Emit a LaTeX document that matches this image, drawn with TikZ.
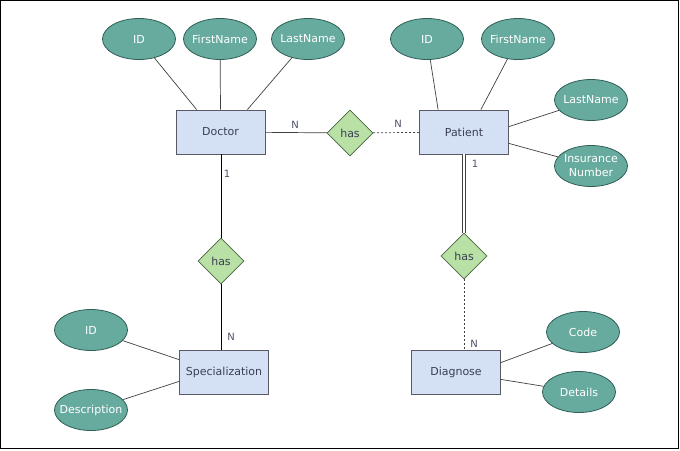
\documentclass[tikz,border=0pt]{standalone}
\usepackage{fontspec}
\setmainfont{DejaVu Sans}
\usetikzlibrary{shapes.geometric}
\definecolor{attrfill}{HTML}{67AB9F}
\definecolor{attrline}{HTML}{2E5E55}
\definecolor{entfill}{HTML}{D4E1F5}
\definecolor{entline}{HTML}{5A5A66}
\definecolor{relfill}{HTML}{B9E0A5}
\definecolor{relline}{HTML}{4A6340}
\definecolor{txt}{HTML}{3A3F55}
\begin{document}
\begin{tikzpicture}[x=1pt,y=-1pt,
		entity/.style={draw=entline,fill=entfill,line width=0.8pt,minimum width=89pt,minimum height=44pt,inner sep=0pt,text=txt,font=\fontsize{11}{13}\selectfont},
		attr/.style={ellipse,draw=attrline,fill=attrfill,line width=0.8pt,minimum width=73pt,minimum height=41pt,inner xsep=-10pt,inner ysep=0pt,text=white,align=center,font=\fontsize{11}{14}\selectfont},
		rel/.style={diamond,draw=relline,fill=relfill,line width=0.8pt,minimum size=46pt,inner sep=0pt,text=txt,font=\fontsize{11}{13}\selectfont},
		card/.style={text=txt!90,inner sep=0pt,font=\fontsize{10}{12}\selectfont},
		link/.style={draw=black!75,line width=0.7pt},
		dots/.style={link,dash pattern=on 2pt off 2pt}]
		\useasboundingbox (0,0) rectangle (680,450);
		\draw [black,line width=1.2pt] (0.6,0.6) rectangle (678.6,448.6);
		% entities
		\node [entity] (doctor) at (220.5,132) {Doctor};
		\node [entity] (patient) at (464,132) {Patient};
		\node [entity] (spec) at (224,372) {Specialization};
		\node [entity] (diag) at (456,372) {Diagnose};
		% relations
		\node [rel] (hasdp) at (350,133) {has};
		\node [rel] (hasds) at (221,261) {has};
		\node [rel] (haspd) at (464,256) {has};
		% attributes
		\node [attr] (docid) at (139,39) {ID};
		\node [attr] (docfirst) at (220,39) {FirstName};
		\node [attr] (doclast) at (308,39) {LastName};
		\node [attr] (patid) at (427,39) {ID};
		\node [attr] (patfirst) at (518,39) {FirstName};
		\node [attr] (patlast) at (591,100) {LastName};
		\node [attr] (patins) at (591,166) {Insurance\\Number};
		\node [attr] (specid) at (91,330) {ID};
		\node [attr] (specdesc) at (91,410) {Description};
		\node [attr] (diagcode) at (583,332) {Code};
		\node [attr] (diagdet) at (579,392) {Details};
		% attribute links
		\draw [link] (docid) -- ([xshift=21pt]doctor.north west);
		\draw [link] (docfirst) -- (doctor.north);
		\draw [link] (doclast) -- ([xshift=-18pt]doctor.north east);
		\draw [link] (patid) -- ([xshift=19pt]patient.north west);
		\draw [link] (patfirst) -- ([xshift=-28pt]patient.north east);
		\draw [link] (patlast) -- ([yshift=-17pt]patient.north east);
		\draw [link] (patins) -- ([yshift=11pt]patient.south east);
		\draw [link] (specid) -- ([yshift=-10pt]spec.north west);
		\draw [link] (specdesc) -- ([yshift=13pt]spec.south west);
		\draw [link] (diagcode) -- ([yshift=-13pt]diag.north east);
		\draw [link] (diagdet) -- ([yshift=15pt]diag.south east);
		% relation links
		\draw [link] (doctor) -- (hasdp);
		\draw [dots] (hasdp) -- (patient);
		\draw [link,black] (doctor.south -| hasds.north) -- (hasds.north);
		\draw [link,black] (hasds.south) -- (hasds.south |- spec.north);
		\draw [link,double=white,double distance=2pt,line width=0.6pt] (patient.south) -- (haspd.north);
		\draw [dots,line width=0.6pt] (haspd.south) -- (haspd.south |- diag.north);
		% cardinalities
		\node [card] (cdp1) at (295,125) {N};
		\node [card] (cdp2) at (398,124) {N};
		\node [card] (cds1) at (227,174) {1};
		\node [card] (cds2) at (231,337) {N};
		\node [card] (cpd1) at (475,164) {1};
		\node [card] (cpd2) at (474,344) {N};
\end{tikzpicture}
\end{document}
